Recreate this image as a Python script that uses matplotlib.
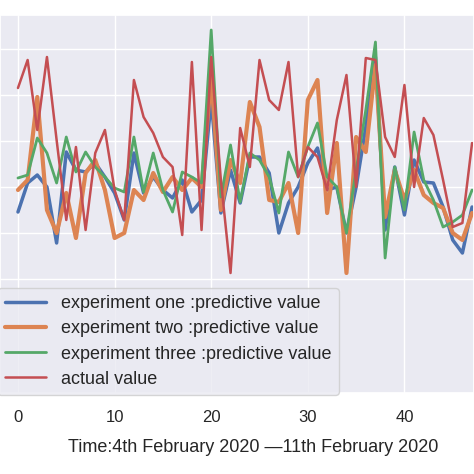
import matplotlib
matplotlib.use("Agg")
import matplotlib.pyplot as plt
import seaborn as sns
import numpy as np

sns.set_theme(style="darkgrid")
plt.rcParams['font.family'] = ['Liberation Sans', 'DejaVu Sans']

# values (arbitrary units, y axis labels are cut off)
red_py = [88,60,130,57,140,220,147,230,153,130,190,220,80,117,133,157,167,235,62,230,57,180,273,128,167,60,100,110,62,177,147,157,190,120,75,187,58,60,137,157,85,187,118,135,180,227,223,143]
blue_py = [212,183,175,187,243,152,170,172,163,177,193,220,153,193,177,190,198,180,212,200,100,213,170,203,157,157,173,233,203,187,163,148,190,187,233,187,127,57,230,167,215,160,182,183,207,240,253,207]
orange_py = [190,180,97,210,233,193,238,173,160,190,238,233,190,200,173,192,177,190,178,187,77,210,160,183,102,127,200,202,183,233,100,80,213,143,273,137,152,65,217,170,200,170,195,203,208,233,240,213]
green_py = [178,175,138,153,183,137,172,152,167,177,188,192,137,192,153,190,212,172,177,183,30,197,145,202,153,160,177,213,152,177,147,123,177,187,233,170,110,42,258,167,210,132,180,200,227,222,215,190]

exp_one = [300 - v for v in blue_py]
exp_two = [300 - v for v in orange_py]
exp_three = [300 - v for v in green_py]
actual = [300 - v for v in red_py]
x = np.arange(len(actual))

labels = ["experiment one :predictive value", "experiment two :predictive value",
          "experiment three :predictive value", "actual value"]
xticks = [0, 10, 20, 30, 40]

fig = plt.figure(figsize=(4.74, 4.74), dpi=100)
ax = fig.add_axes([0, 81/474, 1, 378/474])
ax.plot(x, exp_one, color="#4c72b0", lw=2.5, label=labels[0])
ax.plot(x, exp_two, color="#dd8452", lw=3.0, label=labels[1])
ax.plot(x, exp_three, color="#55a868", lw=2.0, label=labels[2])
ax.plot(x, actual, color="#c44e52", lw=1.8, label=labels[3])

ax.set_xlim(-1.86, 47.2)
ax.set_ylim(-93, 285)
ax.set_yticks([21, 67, 113, 159, 205, 251])
ax.set_yticklabels([])
ax.set_xticks(xticks)
ax.set_xticklabels([str(t) for t in xticks], fontsize=12)
ax.tick_params(axis='x', pad=6)

leg = ax.legend(loc="lower left", bbox_to_anchor=(-0.005, -0.005), fontsize=13,
                frameon=True, borderaxespad=0, handlelength=2.3, labelspacing=0.45)
leg.get_frame().set_edgecolor("#cccccc")

fig.text(68/474, 1 - 447/474, "Time:4th February 2020 \u201411th February 2020",
         fontsize=13, ha="left", va="center")

fig.savefig("out.png", dpi=100)
